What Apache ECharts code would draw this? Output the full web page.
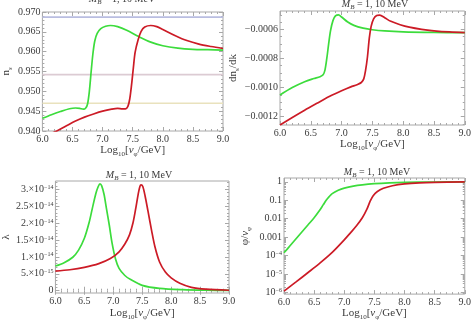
<!DOCTYPE html>
<html><head><meta charset="utf-8">
<script src="https://cdn.jsdelivr.net/npm/echarts@6/dist/echarts.min.js"></script>
<style>html,body{margin:0;padding:0;background:#fff}#chart{width:474px;height:322px}</style>
</head><body><div id="chart"></div>
<script>
// ---- spectral index n_s ----
const nsGreenX = [6.0, 6.15, 6.3, 6.45, 6.55, 6.62, 6.68, 6.72, 6.75, 6.78, 6.81, 6.84, 6.87, 6.91, 6.97, 7.05, 7.13, 7.25, 7.4, 7.6, 7.8, 8.0, 8.25, 8.5, 8.75, 9.0];
const nsGreenY = [0.9432, 0.9441, 0.9449, 0.9456, 0.9458, 0.9457, 0.9455, 0.9458, 0.9468, 0.9500, 0.9550, 0.9596, 0.9627, 0.9646, 0.9658, 0.9664, 0.9666, 0.9663, 0.9654, 0.9638, 0.9624, 0.9615, 0.9609, 0.9606, 0.9605, 0.9604];
const nsRedX = [6.0, 6.24, 6.4, 6.55, 6.7, 6.85, 7.0, 7.15, 7.25, 7.33, 7.38, 7.42, 7.45, 7.48, 7.51, 7.54, 7.59, 7.64, 7.7, 7.8, 7.9, 8.0, 8.2, 8.4, 8.6, 8.8, 9.0];
const nsRedY = [0.9385, 0.9400, 0.9413, 0.9425, 0.9435, 0.9443, 0.9450, 0.9455, 0.9457, 0.9456, 0.9456, 0.9462, 0.9480, 0.9515, 0.9558, 0.9598, 0.9630, 0.9651, 0.9662, 0.9666, 0.9663, 0.9656, 0.9641, 0.9628, 0.9619, 0.9613, 0.9608];
const nsRefLevels = [0.9687, 0.9542, 0.9470];
const nsRefColors = ['#b9bde0', '#dccbd3', '#e9e2bd'];
const nsTicks = [0.940, 0.945, 0.950, 0.955, 0.960, 0.965, 0.970];
const nsTickLabels = ['0.940', '0.945', '0.950', '0.955', '0.960', '0.965', '0.970'];

// ---- running dn_s/dk ----
const runGreenX = [6.0, 6.2, 6.4, 6.55, 6.65, 6.7, 6.73, 6.76, 6.79, 6.82, 6.86, 6.9, 6.95, 7.0, 7.1, 7.2, 7.35, 7.5, 7.7, 8.0, 8.5, 9.0];
const runGreenY = [-0.001051, -0.001000, -0.000960, -0.000938, -0.000925, -0.000912, -0.000880, -0.000800, -0.000700, -0.000610, -0.000540, -0.000508, -0.000500, -0.000515, -0.000550, -0.000573, -0.000592, -0.000603, -0.000611, -0.000617, -0.000621, -0.000623];
const runRedX = [6.0, 6.2, 6.4, 6.6, 6.8, 7.0, 7.15, 7.25, 7.32, 7.36, 7.39, 7.42, 7.45, 7.48, 7.52, 7.57, 7.62, 7.7, 7.8, 7.95, 8.1, 8.3, 8.5, 8.75, 9.0];
const runRedY = [-0.001257, -0.001205, -0.001155, -0.001108, -0.001062, -0.001022, -0.000995, -0.000980, -0.000965, -0.000940, -0.000880, -0.000790, -0.000660, -0.000580, -0.000528, -0.000505, -0.000502, -0.000520, -0.000545, -0.000568, -0.000585, -0.000600, -0.000610, -0.000618, -0.000622];
const runTicks = [-0.0012, -0.0010, -0.0008, -0.0006];
const runTickLabels = ['\u22120.0012', '\u22120.0010', '\u22120.0008', '\u22120.0006'];

// ---- quartic coupling lambda ----
const lamGreenX = [6.0, 6.15, 6.3, 6.4, 6.5, 6.58, 6.64, 6.7, 6.74, 6.77, 6.8, 6.84, 6.88, 6.93, 6.98, 7.04, 7.1, 7.2, 7.3, 7.5, 7.8, 8.2, 8.6, 9.0];
const lamGreenY = [7.3e-15, 8.3e-15, 9.9e-15, 1.20e-14, 1.55e-14, 2.00e-14, 2.45e-14, 2.88e-14, 3.08e-14, 3.16e-14, 3.10e-14, 2.85e-14, 2.45e-14, 1.95e-14, 1.40e-14, 9.3e-15, 6.6e-15, 4.5e-15, 3.3e-15, 1.6e-15, 7e-16, 3e-16, 1.5e-16, 1e-16];
const lamRedX = [6.0, 6.25, 6.5, 6.75, 6.95, 7.1, 7.2, 7.28, 7.34, 7.39, 7.43, 7.46, 7.48, 7.51, 7.55, 7.6, 7.66, 7.72, 7.8, 7.9, 8.0, 8.15, 8.35, 8.6, 9.0];
const lamRedY = [5.8e-15, 6.2e-15, 6.9e-15, 8.0e-15, 9.5e-15, 1.15e-14, 1.38e-14, 1.65e-14, 2.00e-14, 2.45e-14, 2.85e-14, 3.08e-14, 3.13e-14, 3.08e-14, 2.80e-14, 2.35e-14, 1.80e-14, 1.30e-14, 8.5e-15, 5.5e-15, 3.8e-15, 2.2e-15, 1.0e-15, 4.5e-16, 1.5e-16];
const lamTicks = [0, 5e-15, 1e-14, 1.5e-14, 2e-14, 2.5e-14, 3e-14];
const lamTickLabels = ['0', '5.\u00d710{sup|\u221215}', '1.\u00d710{sup|\u221214}', '1.5\u00d710{sup|\u221214}', '2.\u00d710{sup|\u221214}', '2.5\u00d710{sup|\u221214}', '3.\u00d710{sup|\u221214}'];

// ---- field value phi / v_phi ----
const phiGreenX = [6.0, 6.1, 6.2, 6.3, 6.4, 6.5, 6.58, 6.65, 6.7, 6.75, 6.8, 6.9, 7.0, 7.15, 7.3, 7.5, 7.75, 8.0, 8.5, 9.0];
const phiGreenY = [1.41e-4, 3.39e-4, 8.13e-4, 1.95e-3, 4.68e-3, 1.12e-2, 2.51e-2, 5.62e-2, 0.100, 0.158, 0.229, 0.347, 0.457, 0.589, 0.692, 0.794, 0.881, 0.933, 0.977, 0.993];
const phiRedX = [6.0, 6.2, 6.4, 6.6, 6.8, 7.0, 7.1, 7.2, 7.3, 7.38, 7.43, 7.48, 7.55, 7.65, 7.8, 8.0, 8.25, 8.5, 9.0];
const phiRedY = [1.17e-6, 3.72e-6, 1.20e-5, 3.98e-5, 1.48e-4, 7.08e-4, 1.66e-3, 3.98e-3, 1.12e-2, 3.55e-2, 8.91e-2, 0.178, 0.302, 0.447, 0.617, 0.776, 0.891, 0.944, 0.989];
const phiTicks = [1e-6, 1e-5, 1e-4, 1e-3, 1e-2, 0.1, 1];
const phiTickLabels = ['10{sup|\u22126}', '10{sup|\u22125}', '10{sup|\u22124}', '0.001', '0.01', '0.1', '1'];

// ---- shared x axis ----
const xTicks = [6.0, 6.5, 7.0, 7.5, 8.0, 8.5, 9.0];
const xTickLabels = ['6.0', '6.5', '7.0', '7.5', '8.0', '8.5', '9.0'];
const xRange = [6, 9];
const panelTitle = '{it|M}{sub|B} = 1, 10 MeV';
const xName = 'Log{sub|10}[{it|v}{sub|\u03c6}/GeV]';

const GREEN = '#3cdc3c', RED = '#cc1b26', FRAME = '#a8a8a8', TXT = '#3a3a3a';
const SERIF = '"Liberation Serif", "DejaVu Serif", serif';

const rich = {
  it: {fontFamily: SERIF, fontStyle: 'italic', fontSize: 11, color: TXT},
  sub: {fontFamily: SERIF, fontSize: 7, verticalAlign: 'bottom', color: TXT, padding: [0, 0, -2, 0]},
  subi: {fontFamily: SERIF, fontStyle: 'italic', fontSize: 7, verticalAlign: 'bottom', color: TXT, padding: [0, 0, -2, 0]},
  sup: {fontFamily: SERIF, fontSize: 6, verticalAlign: 'top', color: TXT}
};

function minorBetween(major, step) {
  const out = [];
  for (let i = 0; i < major.length - 1; i++) {
    const n = Math.round((major[i + 1] - major[i]) / step);
    for (let k = 1; k < n; k++) out.push(major[i] + k * step);
  }
  return out;
}
function withEdges(vals, lo, hi, step) {
  const out = vals.slice();
  for (let v = vals[0] - step; v > lo; v -= step) out.push(v);
  for (let v = vals[vals.length - 1] + step; v < hi; v += step) out.push(v);
  return out;
}
function logMinor(lo, hi) {
  const out = [];
  for (let e = -7; e <= 0; e++) for (let m = 2; m <= 9; m++) {
    const v = m * Math.pow(10, e);
    if (v > lo && v < hi) out.push(v);
  }
  return out;
}
function labelFor(ticks, labels) {
  return v => {
    let best = 0, bd = Infinity;
    ticks.forEach((t, i) => {
      const d = Math.abs(t - v) / (Math.abs(t) + Math.abs(v) + 1e-30);
      if (d < bd) { bd = d; best = i; }
    });
    return labels[best];
  };
}

const xAxes = [], yAxes = [];
// Framed axis set: labelled side plus mirrored side, each with major and minor ticks
function addAxes(list, dim, grid, cfg) {
  const sides = dim === 'x' ? ['bottom', 'top'] : ['left', 'right'];
  let mainIndex = -1;
  sides.forEach((side, si) => {
    [[cfg.major, 4], [cfg.minor, 2]].forEach(([vals, len], ti) => {
      const main = si === 0 && ti === 0;
      const ax = {
        type: cfg.type || 'value', gridIndex: grid, position: side,
        min: cfg.min, max: cfg.max, logBase: 10,
        axisLine: {show: false}, splitLine: {show: false}, minorTick: {show: false},
        axisTick: {show: true, inside: true, length: len, customValues: vals, lineStyle: {color: FRAME, width: 1}},
        axisLabel: main ? {
          show: true, customValues: cfg.major, margin: cfg.margin, formatter: labelFor(cfg.major, cfg.labels),
          fontFamily: SERIF, fontSize: 10, color: TXT, rich: rich, hideOverlap: false
        } : {show: false},
        silent: true
      };
      if (main) {
        Object.assign(ax, {
          name: cfg.name, nameLocation: 'middle', nameGap: cfg.nameGap,
          nameTextStyle: {fontFamily: SERIF, fontSize: 11, color: TXT, rich: rich}
        });
        mainIndex = list.length;
      }
      list.push(ax);
    });
  });
  return mainIndex;
}

const xMinor = minorBetween(xTicks, 0.1);
const grids = [
  {left: 31, top: 12, width: 192, height: 119},
  {left: 280, top: 11, width: 190, height: 114},
  {left: 49, top: 181, width: 180, height: 113},
  {left: 284, top: 178, width: 186, height: 120}
];

const xCfg = gap => ({min: xRange[0], max: xRange[1], major: xTicks, minor: xMinor, labels: xTickLabels, name: xName, nameGap: gap, margin: 3});
const panels = [
  {x: xCfg(13),
   y: {min: 0.94, max: 0.97, major: nsTicks, minor: minorBetween(nsTicks, 0.001), labels: nsTickLabels, name: 'n{subi|s}', nameGap: 20, margin: 2}},
  {x: xCfg(13),
   y: {min: -0.001257, max: -0.000474, major: runTicks, minor: withEdges(minorBetween(runTicks, 0.00005), -0.001257, -0.000474, 0.00005), labels: runTickLabels, name: 'dn{sub|s}/dk', nameGap: 25, margin: 2}},
  {x: xCfg(15),
   y: {min: -6.7e-16, max: 3.243e-14, major: lamTicks, minor: withEdges(minorBetween(lamTicks, 1e-15), -6.7e-16, 3.243e-14, 1e-15), labels: lamTickLabels, name: '\u03bb', nameGap: 39, margin: 2}},
  {x: xCfg(12),
   y: {type: 'log', min: 8.1e-7, max: 1.62, major: phiTicks, minor: logMinor(8.1e-7, 1.62), labels: phiTickLabels, name: '\u03c6/{it|v}{sub|\u03c6}', nameGap: 33, margin: 2}}
];

const idx = panels.map((p, g) => ({xi: addAxes(xAxes, 'x', g, p.x), yi: addAxes(yAxes, 'y', g, p.y)}));

function curve(xs, ys, color, p, width, z) {
  return {
    type: 'line', xAxisIndex: idx[p].xi, yAxisIndex: idx[p].yi,
    data: xs.map((x, i) => [x, ys[i]]), symbol: 'none', smooth: 0.3,
    clip: true, z: z || 3, silent: true, lineStyle: {color: color, width: width || 1.7}
  };
}

// reference levels across the n_s panel
const refSeries = nsRefLevels.map((v, i) => curve(xRange, [v, v], nsRefColors[i], 0, 1.6, 2));

const series = refSeries.concat([
  curve(nsGreenX, nsGreenY, GREEN, 0), curve(nsRedX, nsRedY, RED, 0),
  curve(runGreenX, runGreenY, GREEN, 1), curve(runRedX, runRedY, RED, 1),
  curve(lamGreenX, lamGreenY, GREEN, 2), curve(lamRedX, lamRedY, RED, 2),
  curve(phiGreenX, phiGreenY, GREEN, 3), curve(phiRedX, phiRedY, RED, 3)
]);

const titlePos = [[122, -6], [375, -1], [139, 170], [377, 167]];
const titles = titlePos.map(([l, t]) => ({
  text: panelTitle, left: l, top: t, textAlign: 'center', padding: 0,
  textStyle: {fontFamily: SERIF, fontSize: 10, fontWeight: 'normal', color: TXT,
    rich: {it: {fontFamily: SERIF, fontStyle: 'italic', fontSize: 10, color: TXT},
           sub: {fontFamily: SERIF, fontStyle: 'italic', fontSize: 7, verticalAlign: 'bottom', color: TXT, padding: [0, 0, -2, 0]}}}
}));

const chart = echarts.init(document.getElementById('chart'), null, {renderer: 'canvas'});
chart.setOption({
  animation: false,
  backgroundColor: '#ffffff',
  title: titles,
  grid: grids.map(g => Object.assign({show: true, borderColor: FRAME, borderWidth: 1, backgroundColor: 'transparent', containLabel: false}, g)),
  xAxis: xAxes,
  yAxis: yAxes,
  series: series
});
</script>
</body></html>
